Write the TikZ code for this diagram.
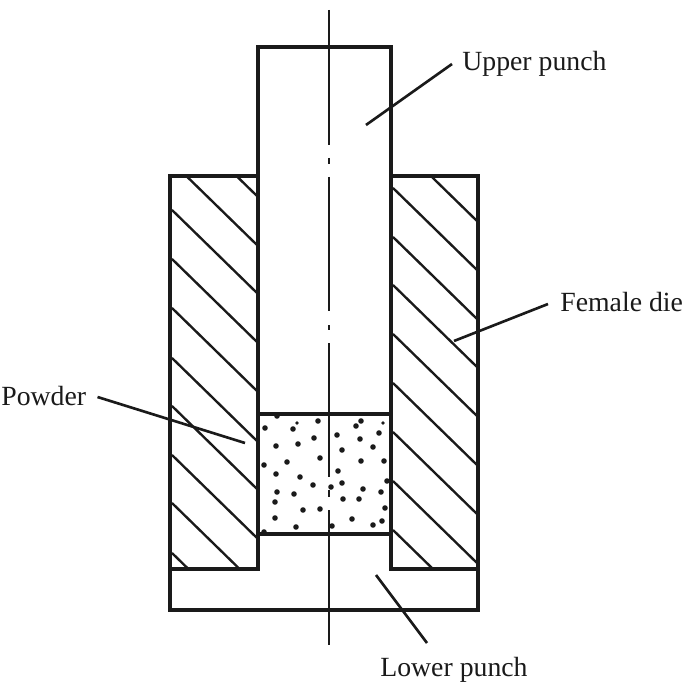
\documentclass[tikz,border=0pt]{standalone}
\usepackage{fontspec}
\setmainfont{Liberation Serif}
\usetikzlibrary{positioning}
\definecolor{inkblack}{HTML}{1A1A1A}
\tikzset{%
  outline/.style  = {draw=inkblack, line width=2.7pt, line join=miter}, % Thick body
  hatch/.style    = {draw=inkblack, line width=1.35pt},
  axisline/.style = {draw=inkblack, line width=1.35pt},
  leader/.style   = {draw=inkblack, line width=1.5pt},
  caption/.style  = {text=inkblack, font=\fontsize{15.8}{18}\selectfont, inner sep=0pt, anchor=base west}
}

\begin{document}
\begin{tikzpicture}[x=0.02cm, y=-0.02cm]

	\useasboundingbox (0,0) rectangle (685,685);

	% hatching of the die
	\begin{scope}
		\clip (170,176) rectangle (258,569);
		\foreach \y in {113,162,210,259,308,358,406,455,503,553}{% left wall
			\draw[hatch] (172,\y) -- ++(85,83);
		}
	\end{scope}
	\begin{scope}
		\clip (391,176) rectangle (478,569);
		\foreach \y in {139,188,237,285,334,383,432,481,530}{% right wall
			\draw[hatch] (393,\y) -- ++(84,82);
		}
	\end{scope}

	\foreach \point in {(277,416),(265,428),(293,429),(318,421),(314,438),(276,446),(298,444),(337,435),
		(356,426),(361,421),(379,433),(360,439),(373,447),(342,450),(264,465),(287,462),(320,458),
		(361,461),(384,461),(276,474),(300,477),(338,471),(313,485),(331,487),(342,483),(387,481),
		(277,492),(294,494),(363,489),(381,492),(275,502),(343,499),(359,499),(385,508),(303,510),
		(320,509),(275,518),(352,519),(296,527),(332,526),(373,525),(382,521),(264,532)}{% grains
		\fill[inkblack] \point circle (2.8);
	}
	\foreach \point in {(297,423),(383,423)}{% grains
		\fill[inkblack] \point circle (1.8);
	}

	% punches and die
	\draw[outline] (258,569) -- (258,47) -- (391,47) -- (391,569);
	\draw[outline] (170,176) rectangle (258,569);
	\draw[outline] (391,176) rectangle (478,569);
	\draw[outline] (170,569) -- (170,610) -- (478,610) -- (478,569);
	\draw[outline] (258,414) -- (391,414);
	\draw[outline] (258,534) -- (391,534);

	% centre line
	\foreach \a/\b in {10/145,158/164,177/311,325/330,343/477,490/497,510/645}{%
		\draw[axisline] (329,\a) -- (329,\b);
	}

	\draw node at (462,71) [caption] (upper) {Upper punch};
	\draw node at (560,312) [caption] (female) {Female die};
	\draw node at (1,405) [caption] (powder) {Powder};
	\draw node at (380,676) [caption] (lower) {Lower punch};

	\coordinate (upperTip) at (366,125);
	\coordinate (femaleTip) at (454,341);
	\coordinate (powderTip) at (245,443);
	\coordinate (lowerTip) at (376,575);

	\draw[leader] (upper.base west) ++(-10,-7) -- (upperTip);
	\draw[leader] (female.base west) ++(-12,-8) -- (femaleTip);
	\draw[leader] (powder.base east) ++(11,-8) -- (powderTip);
	\draw[leader] (lower.base west) ++(47,-33) -- (lowerTip);

\end{tikzpicture}
\end{document}
